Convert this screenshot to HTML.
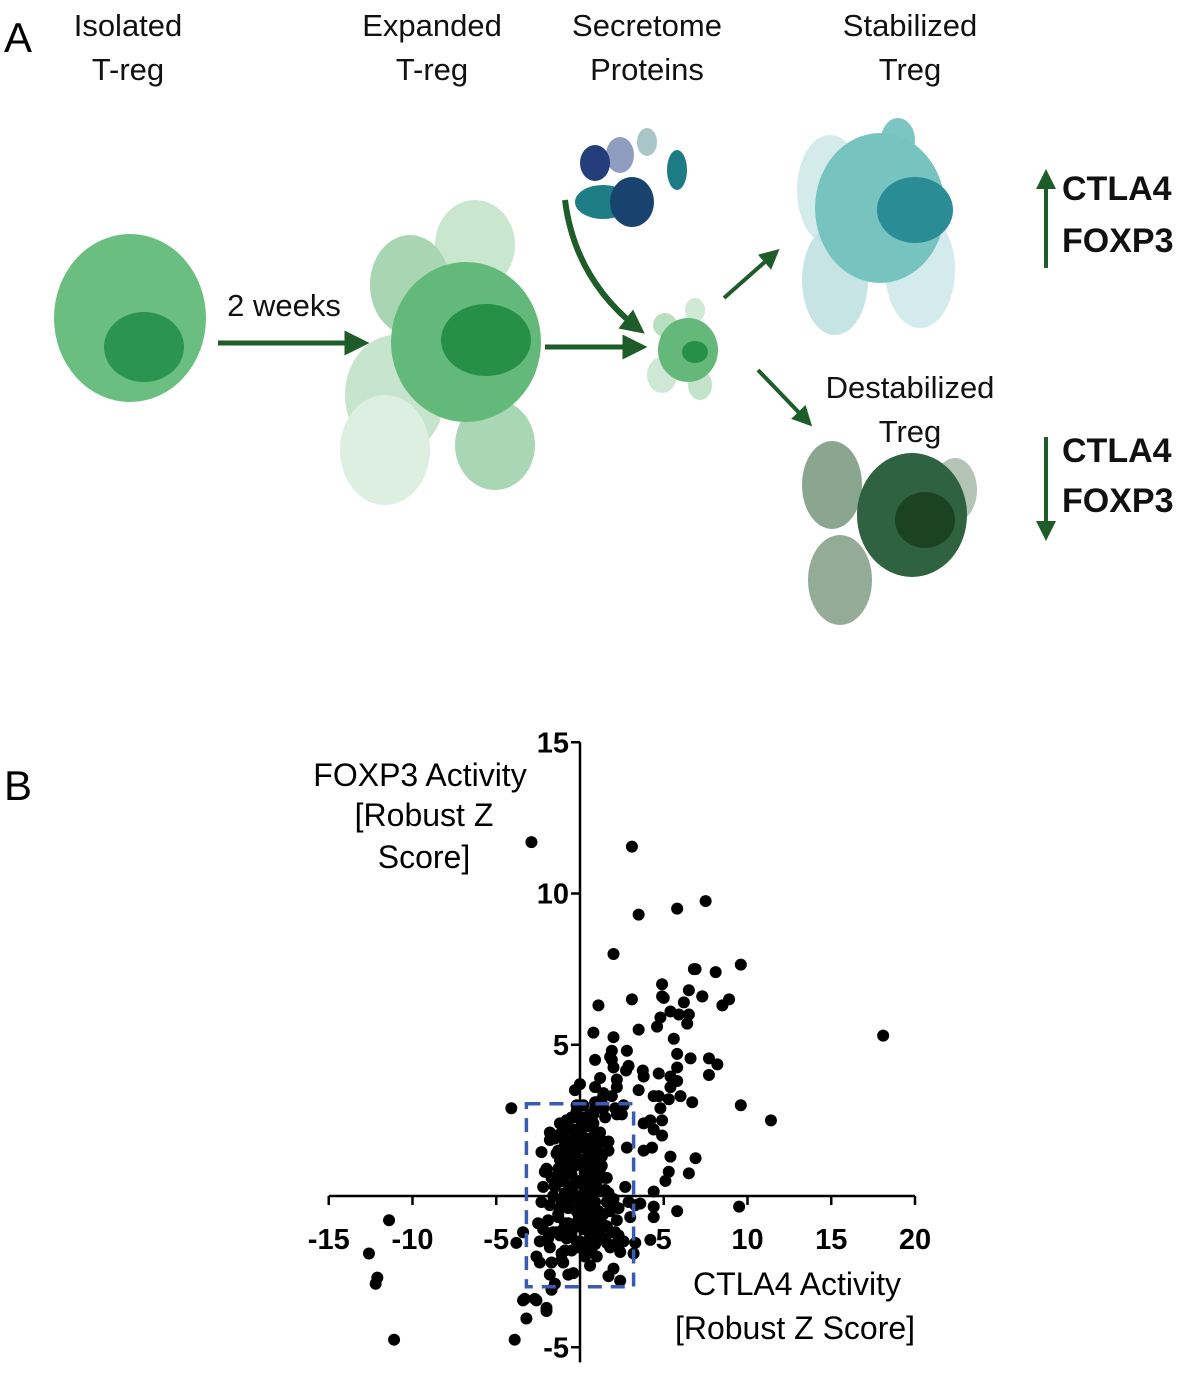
<!DOCTYPE html>
<html><head><meta charset="utf-8"><style>
body{margin:0;background:#fff;}
svg{display:block;}
text{font-family:"Liberation Sans",sans-serif;}
</style></head><body>
<svg id="fig" width="1200" height="1382" viewBox="0 0 1200 1382" xmlns="http://www.w3.org/2000/svg">
<defs>
<marker id="ah" markerWidth="5" markerHeight="5" refX="3.5" refY="2.5" orient="auto" markerUnits="strokeWidth"><path d="M0,0 L5,2.5 L0,5 Z" fill="#1e5c2a"/></marker>
<marker id="ah2" markerWidth="4" markerHeight="4" refX="3" refY="2" orient="auto" markerUnits="strokeWidth"><path d="M0,0 L4,2 L0,4 Z" fill="#1e5c2a"/></marker>
</defs>
<g>
<text x="4" y="52" font-size="42">A</text>
<g font-size="31" text-anchor="middle" fill="#111">
<text x="128" y="36">Isolated<tspan x="128" dy="44">T-reg</tspan></text>
<text x="432" y="36">Expanded<tspan x="432" dy="44">T-reg</tspan></text>
<text x="647" y="36">Secretome<tspan x="647" dy="44">Proteins</tspan></text>
<text x="910" y="36">Stabilized<tspan x="910" dy="44">Treg</tspan></text>
<text x="910" y="398">Destabilized<tspan x="910" dy="44">Treg</tspan></text>
<text x="284" y="316">2 weeks</text>
</g>
<g>
<ellipse cx="130" cy="318" rx="76" ry="84" fill="#6abf80"/>
<ellipse cx="144" cy="347" rx="40" ry="35" fill="#2b9450"/>
</g>
<g>
<ellipse cx="475" cy="245" rx="40" ry="45" fill="#c9e6cf"/>
<ellipse cx="410" cy="285" rx="40" ry="50" fill="#a8d6b2"/>
<ellipse cx="395" cy="395" rx="50" ry="60" fill="#b9dfc1" opacity="0.8"/>
<ellipse cx="385" cy="450" rx="45" ry="55" fill="#dcefe0"/>
<ellipse cx="495" cy="445" rx="40" ry="45" fill="#a9d6b4"/>
<ellipse cx="466" cy="342" rx="75" ry="80" fill="#63b979"/>
<ellipse cx="486" cy="340" rx="45" ry="36" fill="#259046"/>
</g>
<g>
<ellipse cx="647" cy="142" rx="10" ry="14" fill="#a8c6c8"/>
<ellipse cx="620" cy="155" rx="14" ry="18" fill="#8e9dc0"/>
<ellipse cx="595" cy="163" rx="15" ry="18" fill="#233e7a"/>
<ellipse cx="677" cy="170" rx="10" ry="20" fill="#1c7b85"/>
<ellipse cx="603" cy="202" rx="28" ry="17" fill="#1e7d85"/>
<ellipse cx="632" cy="202" rx="22" ry="25" fill="#17436e"/>
</g>
<g>
<ellipse cx="695" cy="310" rx="10" ry="12" fill="#cfe9d5"/>
<ellipse cx="665" cy="325" rx="12" ry="12" fill="#b9dfc1"/>
<ellipse cx="662" cy="375" rx="15" ry="18" fill="#cfe8d5"/>
<ellipse cx="700" cy="385" rx="12" ry="15" fill="#c3e3ca"/>
<ellipse cx="688" cy="350" rx="30" ry="32" fill="#64b97a"/>
<ellipse cx="695" cy="352" rx="13" ry="11" fill="#259046"/>
</g>
<g>
<ellipse cx="898" cy="140" rx="17" ry="22" fill="#7cc5c3"/>
<ellipse cx="830" cy="190" rx="33" ry="55" fill="#d4ebeb"/>
<ellipse cx="835" cy="280" rx="33" ry="55" fill="#c7e4e5"/>
<ellipse cx="920" cy="270" rx="35" ry="58" fill="#d3ebec"/>
<ellipse cx="880" cy="208" rx="65" ry="75" fill="#76c3c0"/>
<ellipse cx="915" cy="210" rx="38" ry="33" fill="#2a8c95"/>
</g>
<g>
<ellipse cx="832" cy="485" rx="30" ry="44" fill="#8aa68f"/>
<ellipse cx="840" cy="580" rx="32" ry="45" fill="#93ab97"/>
<ellipse cx="955" cy="490" rx="22" ry="32" fill="#b4c4b7"/>
<ellipse cx="912" cy="515" rx="55" ry="62" fill="#2f6240"/>
<ellipse cx="925" cy="520" rx="30" ry="28" fill="#1c4224"/>
</g>
<g stroke="#1e5c2a" fill="none">
<line x1="218" y1="343" x2="362" y2="343" stroke-width="5" marker-end="url(#ah)"/>
<line x1="545" y1="347" x2="640" y2="347" stroke-width="5" marker-end="url(#ah)"/>
<path d="M565,200 Q575,280 640,330" stroke-width="6" marker-end="url(#ah2)"/>
<line x1="724" y1="298" x2="775" y2="253" stroke-width="4" marker-end="url(#ah)"/>
<line x1="758" y1="370" x2="808" y2="422" stroke-width="4" marker-end="url(#ah)"/>
<line x1="1046" y1="268" x2="1046" y2="175" stroke-width="4" marker-end="url(#ah)"/>
<line x1="1046" y1="437" x2="1046" y2="535" stroke-width="4" marker-end="url(#ah)"/>
</g>
<g font-size="34" font-weight="bold" fill="#111">
<text x="1062" y="200">CTLA4</text>
<text x="1062" y="252">FOXP3</text>
<text x="1062" y="462">CTLA4</text>
<text x="1062" y="512">FOXP3</text>
</g>
</g>
<g>
<text x="4" y="800" font-size="42">B</text>
<g id="plot"></g>
</g>
</svg>
<script>
const xTicks=[-15,-10,-5,5,10,15,20];
const yTicks=[15,10,5,-5];
const boxX=[-3.2,3.2];
const boxY=[-3.0,3.05];
const ctla4=[-2.9,3.1,3.5,5.8,7.5,9.6,8.1,6.8,2.0,1.1,4.9,7.3,8.9,8.5,18.1,9.6,11.4,-4.1,-11.4,-12.6,-12.1,-12.2,-11.1,-3.9,
3.1,4.9,5.0,6.5,7.3,6.9,6.2,5.4,5.9,6.5,6.4,4.8,4.6,3.5,0.8,2.0,5.6,1.9,2.8,0.9,1.9,5.8,6.6,7.7,8.2,2.0,2.75,3.75,5.8,4.7,7.7,5.4,3.8,2.2,5.8,0.9,2.2,5.4,3.5,6.0,4.7,6.7,
5.3,4.4,4.8,4.2,4.9,3.8,4.4,4.9,3.8,4.3,5.4,6.9,5.3,6.5,5.1,4.4,3.6,4.4,5.8,4.4,9.5,4.2,3.3,3.2,2.4,2.2,1.6,1.7,0.6,-0.1,-0.4,-1.0,-1.1,-1.7,-2.4,-1.8,-2.4,-3.4,-3.8,-2.5,-1.7,-1.5,-3.4,-2.6,-2.0,-3.2,-2.3,-2.0,-1.7,-2.3,-1.8,-3.3,-2.7,-2.0,-1.8,
-1.2,-0.8,-0.4,0.0,0.4,0.8,1.2,-1.0,-0.6,-0.2,0.2,0.6,1.0,1.4,-1.4,-0.9,-0.5,0.1,0.5,0.9,1.3,1.7,-1.3,-0.7,-0.3,0.3,0.7,1.1,1.5,-1.5,-1.1,-0.6,0.0,0.4,0.8,1.2,1.6,-1.6,-1.0,-0.4,0.2,0.6,1.0,1.8,-1.2,-0.8,-0.2,0.3,0.9,1.4,2.0,-1.9,-1.3,-0.7,-0.1,0.5,1.1,1.6,-1.0,-0.5,0.0,0.6,1.2,-0.8,-0.2,0.4,1.0,1.9,2.4,2.6,2.2,2.8,-2.0,-2.2,-1.8,0.1,0.7,1.3,-0.3,0.9,1.5,2.1,2.5,-0.6,0.2,1.0,1.7,2.3,-1.4,-0.9,0.3,1.1,-2.1,-1.6,-0.4,0.8,1.8,2.7,2.9,3.0,2.6,-0.5,0.5,1.5,-1.1,0.0,1.2,2.0,-0.7,0.6,1.4,-1.5,-0.1,1.0,0.2,-0.3,1.6,2.2,-1.8,-1.2,0.4,3.3,2.9,1.8,0.7,-0.9,-2.6,-2.2,0.3,1.9,2.4,0.9,-0.2,1.3,0.1,-1.3,0.6,
-1.1,-0.7,-0.3,0.2,0.7,1.1,-1.3,-0.9,-0.4,0.0,0.5,0.9,1.3,-1.2,-0.6,-0.1,0.3,0.8,1.2,-1.0,-0.5,0.1,0.6,1.0,1.5,-1.4,-0.8,-0.2,0.4,0.9,-1.1,-0.6,0.0,0.5,1.1,1.6,-1.3,-0.7,-0.1,0.4,0.8,-0.9,-0.3,0.2,0.7,1.3,-1.2,-0.5,0.1,0.6,-0.8,-0.2,0.3,0.9,-1.0,-0.4,0.2,0.8,1.4,-0.6,0.0,0.5,-1.5,-0.9,-0.3,0.3,1.0,1.7,-0.7,0.1,0.7,-1.1,-0.5,0.4,1.2,-0.2,0.6,-1.6,-0.8,0.0,0.9,1.8,2.3,2.1,-1.9,-1.7,1.5,-0.4,0.3];
const foxp3=[11.7,11.55,9.3,9.5,9.75,7.65,7.4,7.5,8.0,6.3,6.6,6.6,6.5,6.3,5.3,3.0,2.5,2.9,-0.8,-1.9,-2.7,-2.9,-4.75,-4.75,
6.5,7.0,6.55,6.8,6.6,7.5,6.4,6.1,6.0,6.0,5.7,5.9,5.6,5.5,5.4,5.25,5.2,4.8,4.8,4.5,4.5,4.7,4.55,4.55,4.35,4.25,4.15,4.15,4.25,4.05,4.0,3.95,3.95,3.85,3.8,3.6,3.6,3.6,3.5,3.3,3.3,3.1,
3.2,3.3,2.9,2.5,2.5,2.4,2.2,2.0,1.5,1.6,1.3,1.25,0.8,0.75,0.5,0.15,-0.25,-0.35,-0.5,-0.7,-0.35,-1.45,-1.55,-1.9,-1.85,-1.55,-1.55,-2.65,-1.5,-1.7,-2.55,-2.2,-1.9,-2.2,-2.2,-1.7,-1.5,-1.2,-1.55,-0.9,-3.1,-2.9,-3.45,-3.45,-3.8,-4.05,1.45,0.8,0.6,-0.2,1.85,-3.4,-3.4,-3.7,-2.6,
2.4,2.5,2.2,2.6,2.3,2.4,2.1,1.9,1.8,2.0,1.7,1.9,1.6,1.8,1.4,1.3,1.5,1.2,1.4,1.1,1.3,1.5,0.9,0.8,1.0,0.7,0.9,1.0,0.6,0.4,0.5,0.3,0.5,0.2,0.4,0.6,0.1,0.0,-0.1,0.1,-0.2,0.0,0.2,-0.3,-0.4,-0.3,-0.5,-0.4,-0.2,-0.6,-0.1,-0.8,-0.7,-0.9,-0.6,-0.8,-0.7,-1.0,-1.1,-1.2,-1.0,-1.3,-1.1,-1.4,-1.5,-1.6,-1.3,-1.2,2.8,3.0,2.7,1.6,0.9,0.3,-0.3,-1.0,-1.7,3.2,3.5,3.1,2.6,2.9,2.7,2.2,1.1,0.6,0.1,-0.4,-1.2,-1.8,-2.0,1.2,0.8,2.0,1.7,-0.9,-0.5,0.3,-0.2,-0.7,-1.5,-1.8,1.0,-1.4,-2.1,3.7,3.9,-2.4,-2.6,-2.3,3.4,1.9,-0.1,-2.0,2.3,0.4,0.6,-0.8,2.1,0.7,-1.9,-0.3,4.3,4.6,-0.6,1.3,-2.0,-1.1,-0.5,3.3,-2.8,1.8,3.0,2.9,
2.2,2.0,2.3,2.1,2.2,1.9,1.7,1.6,1.8,1.5,1.7,1.4,1.6,1.2,1.3,1.0,1.2,0.9,1.1,0.8,0.7,0.9,0.5,0.7,0.4,0.6,0.3,0.2,0.4,0.1,0.0,-0.1,0.2,-0.2,0.0,-0.3,-0.4,-0.5,-0.2,-0.6,-0.4,-0.8,-0.7,-0.6,-0.9,-1.0,-1.1,-1.2,-0.9,-1.3,2.6,2.4,2.7,2.5,2.8,2.6,2.9,2.4,2.6,3.0,2.7,2.9,0.2,0.5,0.7,0.3,0.1,0.0,1.9,2.1,1.8,-0.3,-0.1,0.0,1.0,1.1,0.8,1.4,1.6,-1.4,-1.2,-1.0,-1.5,-1.6,-1.7,-1.3,-1.2,-1.4];
const X=v=>580+v*16.75, Y=v=>1196-v*30.25;
const NS='http://www.w3.org/2000/svg';
const g=document.getElementById('plot');
function mk(t,a,p){const e=document.createElementNS(NS,t);for(const k in a)e.setAttribute(k,a[k]);(p||g).appendChild(e);return e;}
const pts=mk('g',{});


for(let i=0;i<Math.min(ctla4.length,foxp3.length);i++){
 const c=mk('circle',{cx:X(ctla4[i]),cy:Y(foxp3[i]),r:6,fill:'#000'},pts);
 
 
}
const xa=mk('line',{x1:X(-15),y1:Y(0),x2:X(20),y2:Y(0),stroke:'#000','stroke-width':2.5});


const ya=mk('line',{x1:X(0),y1:Y(15),x2:X(0),y2:Y(-5.5),stroke:'#000','stroke-width':2.5});


xTicks.forEach(t=>{
 mk('line',{x1:X(t),y1:Y(0),x2:X(t),y2:Y(0)+9,stroke:'#000','stroke-width':2.5});
 const tx=mk('text',{x:X(t),y:Y(0)+53,'text-anchor':'middle','font-size':29,'font-weight':'bold'});
 tx.textContent=t;
 
 
});
yTicks.forEach(t=>{
 mk('line',{x1:X(0)-9,y1:Y(t),x2:X(0),y2:Y(t),stroke:'#000','stroke-width':2.5});
 const tx=mk('text',{x:X(0)-11,y:Y(t)+10,'text-anchor':'end','font-size':29,'font-weight':'bold'});
 tx.textContent=t;
 
 
});
const bx=mk('rect',{x:X(boxX[0]),y:Y(boxY[1]),width:X(boxX[1])-X(boxX[0]),height:Y(boxY[0])-Y(boxY[1]),fill:'none',stroke:'#3a5bb0','stroke-width':3.5,'stroke-dasharray':'14,9'});


const yl=mk('text',{x:420,y:786,'text-anchor':'middle','font-size':32});
yl.innerHTML='FOXP3 Activity<tspan x="424" dy="40">[Robust Z</tspan><tspan x="424" dy="42">Score]</tspan>';


const xl=mk('text',{x:797,y:1295,'text-anchor':'middle','font-size':32});
xl.innerHTML='CTLA4 Activity<tspan x="795" dy="44">[Robust Z Score]</tspan>';


</script>
</body></html>
